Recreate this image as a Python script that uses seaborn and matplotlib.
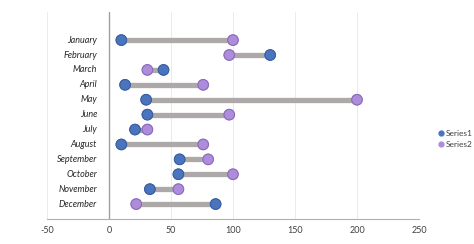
import pandas as pd
import numpy as np
import seaborn as sns
import matplotlib.pyplot as plt

months = ["January", "February", "March", "April", "May", "June",
          "July", "August", "September", "October", "November", "December"]
series1 = [10, 130, 44, 13, 30, 31, 21, 10, 57, 56, 33, 86]
series2 = [100, 97, 31, 76, 200, 97, 31, 76, 80, 100, 56, 22]
xticks = [-50, 0, 50, 100, 150, 200, 250]

df = pd.DataFrame({"Month": months, "Series1": series1, "Series2": series2})
long = df.melt(id_vars="Month", var_name="Series", value_name="Value")

sns.set_style("white")
plt.rcParams['font.family'] = ['Lato', 'DejaVu Sans']

fig = plt.figure(figsize=(4.74, 2.44), dpi=100)
ax = fig.add_axes([0.099, 0.1025, 0.785, 0.848])

ypos = np.arange(len(months))
# grey connector bars
ax.hlines(ypos, df["Series1"], df["Series2"], color="#ADA9A9", lw=3.8, zorder=2)

sns.scatterplot(data=long, x="Value", y="Month", hue="Series",
                palette={"Series1": "#4A74BE", "Series2": "#AE8CDC"},
                edgecolor=None, s=58, zorder=3, ax=ax, legend=False)
# edges
ax.scatter(df["Series1"], ypos, s=58, facecolor="none", edgecolor="#3A5E9E", lw=0.8, zorder=4)
ax.scatter(df["Series2"], ypos, s=58, facecolor="none", edgecolor="#8A6BB8", lw=0.8, zorder=4)

ax.set_xlim(-50, 250)
ax.set_ylim(len(months), -1.88)
ax.set_xticks(xticks)
ax.set_xticklabels([str(v) for v in xticks], fontsize=6.5, color="#404040")
ax.set_yticks([])
ax.set_xlabel("")
ax.set_ylabel("")

# category labels sit next to the vertical axis at 0
for y, m in zip(ypos, months):
    ax.text(-9.5, y, m, ha="right", va="center", fontsize=6.5,
            style="italic", color="#262626")

for v in xticks:
    if v != 0:
        ax.axvline(v, color="#EBEBEB", lw=0.7, zorder=0)
ax.axvline(0, color="#A0A0A0", lw=1.0, zorder=1)

for side in ["top", "right", "left"]:
    ax.spines[side].set_visible(False)
ax.spines["bottom"].set_color("#B0B0B0")
ax.spines["bottom"].set_linewidth(0.8)
ax.tick_params(axis="x", length=3, width=0.7, color="#B0B0B0", pad=2)

handles = [plt.Line2D([], [], marker="o", ls="", color="#4A74BE", markersize=3.5, label="Series1"),
           plt.Line2D([], [], marker="o", ls="", color="#AE8CDC", markersize=3.5, label="Series2")]
fig.legend(handles=handles, loc="center left", bbox_to_anchor=(0.905, 0.43),
           frameon=False, fontsize=6, handletextpad=0.1, labelspacing=0.5,
           handlelength=1.0, labelcolor="#404040")

fig.savefig("out.png", dpi=100)
